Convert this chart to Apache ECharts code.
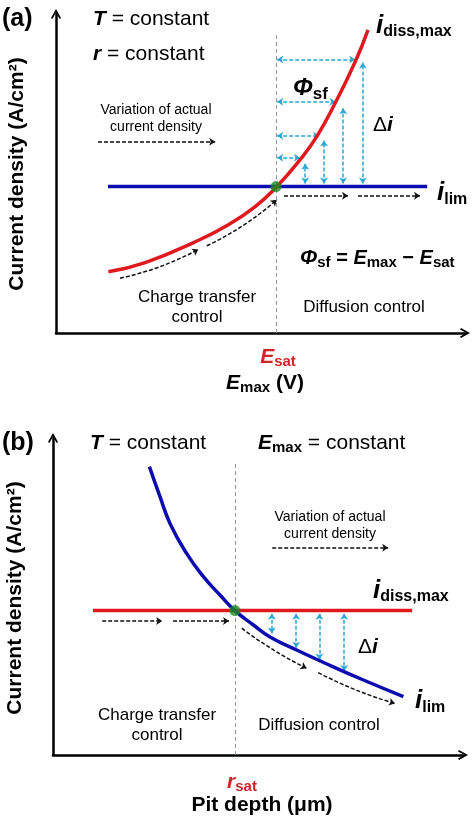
<!DOCTYPE html>
<html><head><meta charset="utf-8">
<script src="https://cdn.jsdelivr.net/npm/echarts@6/dist/echarts.min.js"></script>
<style>html,body{margin:0;padding:0;background:#fff}#c{width:474px;height:821px}</style>
</head><body><div id="c"></div>
<script>
// ===== Panel (a): current density vs E_max (schematic units) =====
const aSatE = 5.5;          // E_sat position on x
const aLim = 3.66;          // i_lim level
const aLimX = [1.3, 9.28];
const aDissX = [1.31, 2.23, 3.48, 4.30, 4.98, 5.52, 6.10, 6.53, 6.98, 7.48, 7.80];
const aDissY = [1.53, 1.76, 2.28, 2.70, 3.16, 3.66, 4.33, 4.93, 5.75, 6.78, 7.58];
const aVlineTop = 7.45;
const aPhiY = [6.84, 5.78, 4.93, 4.38];
const aPhiEndX = [7.48, 6.99, 6.58, 6.10];
const aDeltaX = [6.23, 6.70, 7.18, 7.67];
const aDeltaBottom = 3.74;
const aDeltaTop = [4.23, 4.81, 5.62, 6.76];
const aFlowStraight = [[[5.7, 3.43], [7.3, 3.43]], [[7.55, 3.43], [9.1, 3.43]], [[1.05, 4.78], [3.98, 4.78]]];
const aFlowCurved = [[[1.6, 1.37], [3.56, 2.09]], [[3.77, 2.18], [5.52, 3.33]]];

// ===== Panel (b): current density vs pit depth (schematic units) =====
const bSatR = 4.55;
const bDiss = 3.61;
const bDissX = [1.0, 8.98];
const bLimX = [2.41, 2.675, 2.925, 3.34, 3.76, 4.175, 4.55, 5.01, 5.425, 6.09, 6.925, 7.76, 8.76];
const bLimY = [7.21, 6.46, 5.79, 5.04, 4.46, 4.00, 3.61, 3.25, 2.95, 2.625, 2.24, 1.875, 1.46];
const bVlineTop = 7.3;
const bDeltaX = [5.47, 6.08, 6.66, 7.28];
const bDeltaTop = 3.53;
const bDeltaBottom = [3.04, 2.68, 2.39, 2.10];
const bFlowStraight = [[[1.23, 3.35], [2.73, 3.35]], [[3.0, 3.35], [4.4, 3.35]], [[5.48, 5.18], [8.38, 5.18]]];
const bFlowCurved = [[[4.72, 3.17], [6.34, 2.17]], [[6.63, 2.06], [8.55, 1.29]]];

const RED = '#e0191e', BLUE = '#0b0bb0', GREEN = '#1d8a22', CYAN = '#2aa6d2', GRAY = '#8a98a6', TRED = '#d2232a';
const FF = '"Liberation Sans", Arial, sans-serif';
const zip = (xs, ys) => xs.map((x, i) => [x, ys[i]]);

const chart = echarts.init(document.getElementById('c'), null, {renderer: 'canvas'});

const arrowPath = 'path://M5,0 L10,9 L8.6,10 L5,3.6 L1.4,10 L0,9 Z';
function axisCommon(max) {
  return {type: 'value', min: 0, max: max, axisLabel: {show: false}, axisTick: {show: false}, splitLine: {show: false},
    axisLine: {show: true, onZero: false, symbol: ['none', arrowPath], symbolSize: [10, 10], lineStyle: {color: '#000', width: 2.5}}};
}

const gridA = {left: 56, top: 14, width: 409, height: 319};
const gridB = {left: 53, top: 438, width: 410, height: 317};

function vline(xi, x, top) {
  return {type: 'lines', coordinateSystem: 'cartesian2d', xAxisIndex: xi, yAxisIndex: xi, silent: true, z: 1,
    lineStyle: {color: GRAY, width: 1, type: [4, 3], opacity: 1}, symbol: 'none',
    data: [{coords: [[x, 0], [x, top]]}]};
}
function dbl(xi, data) {
  return {type: 'lines', coordinateSystem: 'cartesian2d', xAxisIndex: xi, yAxisIndex: xi, silent: true, z: 2,
    lineStyle: {color: CYAN, width: 1.5, type: [4, 2], opacity: 1}, symbol: ['arrow', 'arrow'], symbolSize: 6, data: data};
}
function flow(xi, data, curv) {
  return {type: 'lines', coordinateSystem: 'cartesian2d', xAxisIndex: xi, yAxisIndex: xi, silent: true, z: 2,
    lineStyle: {color: '#111', width: 1.5, type: [4, 2], opacity: 1, curveness: curv || 0}, symbol: ['none', 'arrow'], symbolSize: 6,
    data: data.map(c => ({coords: c}))};
}
function curve(xi, data, color, smooth) {
  return {type: 'line', xAxisIndex: xi, yAxisIndex: xi, data: data, smooth: smooth, showSymbol: false, silent: true, z: 3,
    lineStyle: {color: color, width: 3.5}};
}

// ---- text helpers ----
const mctx = document.createElement('canvas').getContext('2d');
function fstr(p) { return (p.i ? 'italic ' : '') + (p.b ? 'bold ' : '') + p.s + 'px ' + FF; }
function seq(x, B, pieces, center, color) {
  let w = 0;
  pieces.forEach(p => { mctx.font = fstr(p); p.w = mctx.measureText(p.t).width; w += p.w; });
  let cx = center ? x - w / 2 : x;
  const out = [];
  pieces.forEach(p => {
    out.push({type: 'text', x: cx, y: B + (p.dy || 0) - 0.3465 * p.s, silent: true, z: 10,
      style: {text: p.t, font: fstr(p), fill: p.c || color || '#000', align: 'left', verticalAlign: 'middle', textAlign: 'left', textVerticalAlign: 'middle'}});
    cx += p.w;
  });
  return out;
}
function vlabel(x, y, t) {
  return {type: 'text', x: x, y: y, rotation: Math.PI / 2, silent: true, z: 10,
    style: {text: t, font: 'bold 21px ' + FF, fill: '#000', align: 'center', verticalAlign: 'middle', textAlign: 'center', textVerticalAlign: 'middle'}};
}
const sub = (t, s, dy) => ({t: t, s: s || 15, b: true, dy: dy == null ? 3 : dy});
const bi = (t, s) => ({t: t, s: s || 21, b: true, i: true});
const rg = (t, s) => ({t: t, s: s || 21});
const bd = (t, s) => ({t: t, s: s || 21, b: true});

let G = [];
// panel (a) text
G = G.concat(seq(2, 28, [bd('(a)', 25)]));
G = G.concat(seq(93, 26, [bi('T'), rg(' = constant')]));
G = G.concat(seq(93, 61, [bi('r'), rg(' = constant')]));
G = G.concat(seq(376, 35, [bi('i', 26), sub('diss,max', 16, 2)]));
G = G.concat(seq(293, 97, [bi('Φ', 24), sub('sf', 17, 3)]));
G = G.concat(seq(373, 132, [rg('Δ', 21), bi('i', 21)]));
G = G.concat(seq(156, 115, [rg('Variation of actual', 14)], true));
G = G.concat(seq(156, 132, [rg('current density', 14)], true));
G = G.concat(seq(437, 202, [bi('i', 26), sub('lim', 16, 3)]));
G = G.concat(seq(300, 265, [bi('Φ', 21), sub('sf', 15), bd(' = ', 20), bi('E', 20), sub('max', 15), bd(' − ', 20), bi('E', 20), sub('sat', 15)]));
G = G.concat(seq(197, 303, [rg('Charge transfer', 17)], true));
G = G.concat(seq(197, 323, [rg('control', 17)], true));
G = G.concat(seq(364, 313, [rg('Diffusion control', 17)], true));
G = G.concat(seq(278, 364, [bi('E', 21), sub('sat', 15)], true, TRED));
G = G.concat(seq(265, 390, [bi('E', 21), sub('max', 15), bd(' (V)', 21)], true));
G.push(vlabel(17, 174, 'Current density (A/cm²)'));
// panel (b) text
G = G.concat(seq(2, 452, [bd('(b)', 25)]));
G = G.concat(seq(90, 450, [bi('T'), rg(' = constant')]));
G = G.concat(seq(258, 450, [bi('E'), sub('max', 15), rg(' = constant')]));
G = G.concat(seq(330, 522, [rg('Variation of actual', 14)], true));
G = G.concat(seq(330, 539, [rg('current density', 14)], true));
G = G.concat(seq(373, 600, [bi('i', 26), sub('diss,max', 16, 2)]));
G = G.concat(seq(358, 654, [rg('Δ', 21), bi('i', 21)]));
G = G.concat(seq(415, 710, [bi('i', 26), sub('lim', 16, 3)]));
G = G.concat(seq(157, 721, [rg('Charge transfer', 17)], true));
G = G.concat(seq(157, 741, [rg('control', 17)], true));
G = G.concat(seq(319, 731, [rg('Diffusion control', 17)], true));
G = G.concat(seq(242, 789, [bi('r', 21), sub('sat', 15)], true, TRED));
G = G.concat(seq(262, 812, [bd('Pit depth (μm)', 21)], true));
G.push(vlabel(15, 598, 'Current density (A/cm²)'));

const option = {
  backgroundColor: '#fff',
  animation: false,
  grid: [gridA, gridB],
  xAxis: [Object.assign(axisCommon(10.225), {gridIndex: 0}), Object.assign(axisCommon(10.25), {gridIndex: 1})],
  yAxis: [Object.assign(axisCommon(7.975), {gridIndex: 0}), Object.assign(axisCommon(7.925), {gridIndex: 1})],
  series: [
    vline(0, aSatE, aVlineTop),
    dbl(0, aPhiY.map((y, i) => ({coords: [[aSatE + 0.03, y], [aPhiEndX[i], y]]}))),
    dbl(0, aDeltaX.map((x, i) => ({coords: [[x, aDeltaBottom], [x, aDeltaTop[i]]]}))),
    flow(0, aFlowStraight, 0),
    flow(0, aFlowCurved, -0.07),
    curve(0, [[aLimX[0], aLim], [aLimX[1], aLim]], BLUE, false),
    curve(0, zip(aDissX, aDissY), RED, true),
    {type: 'scatter', xAxisIndex: 0, yAxisIndex: 0, z: 5, symbolSize: 11, itemStyle: {color: GREEN}, data: [[aSatE, aLim]]},

    vline(1, bSatR, bVlineTop),
    dbl(1, bDeltaX.map((x, i) => ({coords: [[x, bDeltaTop], [x, bDeltaBottom[i]]]}))),
    flow(1, bFlowStraight, 0),
    flow(1, bFlowCurved, -0.05),
    curve(1, [[bDissX[0], bDiss], [bDissX[1], bDiss]], RED, false),
    curve(1, zip(bLimX, bLimY), BLUE, true),
    {type: 'scatter', xAxisIndex: 1, yAxisIndex: 1, z: 5, symbolSize: 11, itemStyle: {color: GREEN}, data: [[bSatR, bDiss]]}
  ],
  graphic: {elements: G}
};
chart.setOption(option);
</script></body></html>
